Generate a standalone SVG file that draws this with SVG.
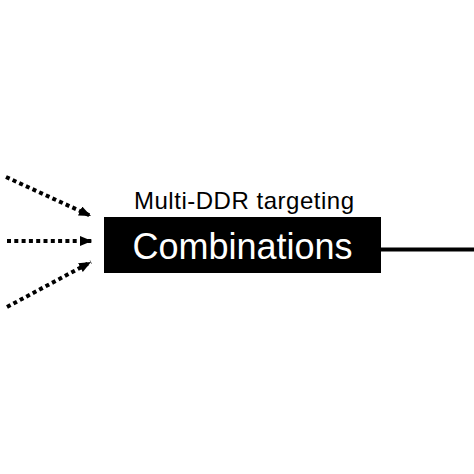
<svg xmlns="http://www.w3.org/2000/svg" width="474" height="474" viewBox="0 0 474 474">
<style>
.arrow{stroke:#000;stroke-width:4;stroke-dasharray:4 3.3;fill:none}
.lbl{font-family:"Liberation Sans",Arial,sans-serif;fill:#000}
</style>
<defs>
<marker id="ah" markerUnits="userSpaceOnUse" markerWidth="14" markerHeight="12" refX="12" refY="5" orient="auto">
<path d="M0,0 L12,5 L0,10 Z" fill="#000"/>
</marker>
</defs>
<rect width="474" height="474" fill="#fff"/>
<g id="connectors">
<line class="arrow" x1="6" y1="177" x2="91" y2="216" marker-end="url(#ah)"/>
<line class="arrow" x1="7" y1="241" x2="92" y2="241" marker-end="url(#ah)"/>
<line class="arrow" x1="7" y1="307" x2="91" y2="262" marker-end="url(#ah)"/>
<line x1="380" y1="249.5" x2="474" y2="249.5" stroke="#000" stroke-width="4"/>
</g>
<g id="combinations">
<text class="lbl" x="244" y="208.5" font-size="24" text-anchor="middle" textLength="220" lengthAdjust="spacing">Multi-DDR targeting</text>
<rect x="104" y="217" width="277" height="56" fill="#000"/>
<text class="lbl" x="242.5" y="259" font-size="36" text-anchor="middle" fill="#fff" style="fill:#fff">Combinations</text>
</g>
</svg>
